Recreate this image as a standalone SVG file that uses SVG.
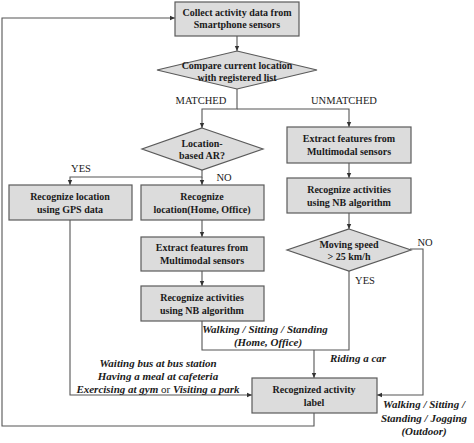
<svg xmlns="http://www.w3.org/2000/svg" width="474" height="443" viewBox="0 0 474 443">
<style>
.box{fill:#dcdcdc;stroke:#5a5a5a;stroke-width:1.2}
.t{font-family:"Liberation Serif",serif;font-weight:bold;font-size:10px;fill:#1a1a1a;text-anchor:middle}
.l{font-family:"Liberation Serif",serif;font-size:10.5px;fill:#1a1a1a;text-anchor:middle}
.i{font-family:"Liberation Serif",serif;font-weight:bold;font-style:italic;font-size:11px;fill:#1a1a1a;text-anchor:middle}
.c{fill:none;stroke:#555;stroke-width:1.1}
</style>
<defs>
<marker id="a" markerWidth="6" markerHeight="6" refX="5" refY="3" orient="auto" markerUnits="userSpaceOnUse">
<path d="M0,0.8 L5,3 L0,5.2 Z" fill="#333"/>
</marker>
</defs>
<rect width="474" height="443" fill="#fff"/>
<g id="connectors">
<path class="c" d="M237,36 V51" marker-end="url(#a)"/>
<path class="c" d="M237,89 V109 H202 V128" marker-end="url(#a)"/>
<path class="c" d="M237,109 H349 V127" marker-end="url(#a)"/>
<path class="c" d="M202,170 V177 H70 V185" marker-end="url(#a)"/>
<path class="c" d="M202,177 V185" marker-end="url(#a)"/>
<path class="c" d="M349,163 V178" marker-end="url(#a)"/>
<path class="c" d="M349,213 V229" marker-end="url(#a)"/>
<path class="c" d="M202,220 V237" marker-end="url(#a)"/>
<path class="c" d="M202,271 V286" marker-end="url(#a)"/>
<path class="c" d="M202,321 V350 H349 V271"/>
<path class="c" d="M314,350 V378" marker-end="url(#a)"/>
<path class="c" d="M410,249 H423 V395 H377" marker-end="url(#a)"/>
<path class="c" d="M70,220 V395 H252" marker-end="url(#a)"/>
<path class="c" d="M314,413 V426 H2 V18 H175" marker-end="url(#a)"/>
</g>
<g id="n1"><rect class="box" x="175" y="2" width="124" height="34"/>
<text class="t" x="237" y="16">Collect activity data from</text><text class="t" x="237" y="28">Smartphone sensors</text></g>
<g id="d1"><polygon class="box" points="237,51 317,70 237,89 157,70"/>
<text class="t" x="237" y="69">Compare current location</text><text class="t" x="237" y="81">with registered list</text></g>
<g id="d2"><polygon class="box" points="202,128 263,149 202,170 142,149"/>
<text class="t" x="202" y="147" font-size="9">Location-</text><text class="t" x="202" y="159" font-size="9">based AR?</text></g>
<g id="n2"><rect class="box" x="287" y="127" width="124" height="36"/>
<text class="t" x="349" y="142">Extract features from</text><text class="t" x="349" y="155">Multimodal  sensors</text></g>
<g id="n3"><rect class="box" x="9" y="185" width="123" height="35"/>
<text class="t" x="70" y="200">Recognize location</text><text class="t" x="70" y="213">using  GPS data</text></g>
<g id="n4"><rect class="box" x="141" y="185" width="123" height="35"/>
<text class="t" x="202" y="200">Recognize</text><text class="t" x="202" y="213">location(Home,  Office)</text></g>
<g id="n5"><rect class="box" x="287" y="178" width="124" height="35"/>
<text class="t" x="349" y="193">Recognize activities</text><text class="t" x="349" y="206">using  NB algorithm</text></g>
<g id="d3"><polygon class="box" points="349,229 411,250 349,271 287,250"/>
<text class="t" x="349" y="248" font-size="9">Moving speed</text><text class="t" x="349" y="260" font-size="9">&gt; 25 km/h</text></g>
<g id="n6"><rect class="box" x="141" y="237" width="123" height="34"/>
<text class="t" x="202" y="251">Extract features from</text><text class="t" x="202" y="264">Multimodal  sensors</text></g>
<g id="n7"><rect class="box" x="141" y="286" width="123" height="35"/>
<text class="t" x="202" y="301">Recognize activities</text><text class="t" x="202" y="314">using  NB algorithm</text></g>
<g id="n8"><rect class="box" x="252" y="378" width="125" height="35"/>
<text class="t" x="314" y="393">Recognized activity</text><text class="t" x="314" y="406">label</text></g>
<g id="labels">
<text class="l" x="201" y="104">MATCHED</text>
<text class="l" x="344" y="104">UNMATCHED</text>
<text class="l" x="81" y="172">YES</text>
<text class="l" x="224" y="181">NO</text>
<text class="l" x="425" y="246">NO</text>
<text class="l" x="365" y="284">YES</text>
<text class="i" x="265" y="333">Walking / Sitting / Standing</text>
<text class="i" x="268" y="346">(Home, Office)</text>
<text class="i" x="358" y="362">Riding a car</text>
<text class="i" x="158" y="367">Waiting bus at bus station</text>
<text class="i" x="158" y="380">Having a meal at cafeteria</text>
<text class="i" x="158" y="393">Exercising at gym <tspan font-weight="normal" font-style="normal">or</tspan> Visiting a park</text>
<text class="i" x="424" y="408" font-size="11.3">Walking / Sitting /</text>
<text class="i" x="424" y="422" font-size="11.3">Standing / Jogging</text>
<text class="i" x="424" y="435" font-size="11.3">(Outdoor)</text>
</g>
</svg>
